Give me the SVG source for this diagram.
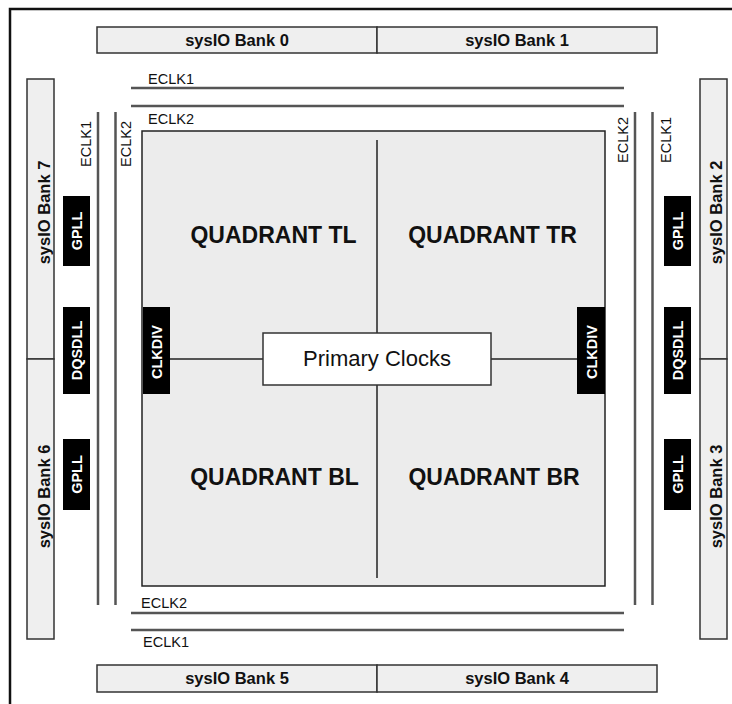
<svg xmlns="http://www.w3.org/2000/svg" width="732" height="704" viewBox="0 0 732 704">
<style>
.bank{fill:#efefef;stroke:#333;stroke-width:1.5}
.bt{font-family:"Liberation Sans",Arial,sans-serif;font-weight:bold;font-size:16.5px;fill:#111;text-anchor:middle}
.eclk{stroke:#555;stroke-width:2.5;fill:none}
.el{font-family:"Liberation Sans",Arial,sans-serif;font-size:14.5px;fill:#111}
.blk{fill:#000}
.wt{font-family:"Liberation Sans",Arial,sans-serif;font-weight:bold;font-size:14.5px;fill:#fff;text-anchor:middle}
.qt{font-family:"Liberation Sans",Arial,sans-serif;font-weight:bold;font-size:23px;fill:#111;text-anchor:middle}
.ln{stroke:#222;stroke-width:1.5;fill:none}
</style>
<rect width="732" height="704" fill="#fff"/>
<path d="M10,704 V9 H732" fill="none" stroke="#111" stroke-width="2.5"/>

<g id="quadrants">
<rect x="142" y="131" width="463" height="455" fill="#ececec" stroke="#222" stroke-width="1.5"/>
<text class="qt" x="273.5" y="243">QUADRANT TL</text>
<text class="qt" x="492.5" y="243">QUADRANT TR</text>
<text class="qt" x="274.5" y="485">QUADRANT BL</text>
<text class="qt" x="494" y="485">QUADRANT BR</text>
</g>

<g id="connectors">
<line class="ln" x1="377" y1="140" x2="377" y2="333"/>
<line class="ln" x1="377" y1="385" x2="377" y2="578"/>
<line class="ln" x1="170" y1="359" x2="263" y2="359"/>
<line class="ln" x1="491" y1="359" x2="577" y2="359"/>
</g>

<g id="eclk">
<line class="eclk" x1="131" y1="88" x2="624" y2="88"/>
<line class="eclk" x1="131" y1="106" x2="624" y2="106"/>
<line class="eclk" x1="131" y1="613" x2="624" y2="613"/>
<line class="eclk" x1="131" y1="630" x2="624" y2="630"/>
<line class="eclk" x1="98" y1="112" x2="98" y2="605"/>
<line class="eclk" x1="115.5" y1="112" x2="115.5" y2="605"/>
<line class="eclk" x1="635" y1="112" x2="635" y2="605"/>
<line class="eclk" x1="652.5" y1="112" x2="652.5" y2="605"/>
<text class="el" x="148" y="84">ECLK1</text>
<text class="el" x="148" y="123.5">ECLK2</text>
<text class="el" x="141" y="608">ECLK2</text>
<text class="el" x="143" y="647">ECLK1</text>
<text class="el" transform="translate(91,167) rotate(-90)">ECLK1</text>
<text class="el" transform="translate(131,167) rotate(-90)">ECLK2</text>
<text class="el" transform="translate(628,163) rotate(-90)">ECLK2</text>
<text class="el" transform="translate(671,163) rotate(-90)">ECLK1</text>
</g>

<g id="bank0"><rect class="bank" x="97" y="27" width="280" height="26"/><text class="bt" x="237" y="45.5">sysIO Bank 0</text></g>
<g id="bank1"><rect class="bank" x="377" y="27" width="280" height="26"/><text class="bt" x="517" y="45.5">sysIO Bank 1</text></g>
<g id="bank5"><rect class="bank" x="97" y="665" width="280" height="27"/><text class="bt" x="237" y="684">sysIO Bank 5</text></g>
<g id="bank4"><rect class="bank" x="377" y="665" width="280" height="27"/><text class="bt" x="517" y="684">sysIO Bank 4</text></g>
<g id="bank7"><rect class="bank" x="27" y="79" width="27" height="280"/><text class="bt" transform="translate(49.5,212.5) rotate(-90)">sysIO Bank 7</text></g>
<g id="bank6"><rect class="bank" x="27" y="359" width="27" height="280"/><text class="bt" transform="translate(49.5,496.5) rotate(-90)">sysIO Bank 6</text></g>
<g id="bank2"><rect class="bank" x="700" y="79" width="27" height="280"/><text class="bt" transform="translate(722,212.5) rotate(-90)">sysIO Bank 2</text></g>
<g id="bank3"><rect class="bank" x="700" y="359" width="27" height="280"/><text class="bt" transform="translate(722,496.5) rotate(-90)">sysIO Bank 3</text></g>

<g id="gpll-tl"><rect class="blk" x="63" y="196" width="27" height="70"/><text class="wt" transform="translate(81.7,231) rotate(-90)">GPLL</text></g>
<g id="dqsdll-l"><rect class="blk" x="63" y="307" width="27" height="87"/><text class="wt" transform="translate(81.7,350.5) rotate(-90)">DQSDLL</text></g>
<g id="gpll-bl"><rect class="blk" x="63" y="439" width="27" height="71"/><text class="wt" transform="translate(81.7,474.5) rotate(-90)">GPLL</text></g>
<g id="gpll-tr"><rect class="blk" x="664" y="196" width="27" height="70"/><text class="wt" transform="translate(682.7,231) rotate(-90)">GPLL</text></g>
<g id="dqsdll-r"><rect class="blk" x="664" y="307" width="27" height="87"/><text class="wt" transform="translate(682.7,350.5) rotate(-90)">DQSDLL</text></g>
<g id="gpll-br"><rect class="blk" x="664" y="439" width="27" height="71"/><text class="wt" transform="translate(682.7,474.5) rotate(-90)">GPLL</text></g>
<g id="clkdiv-l"><rect class="blk" x="143" y="307" width="27" height="87"/><text class="wt" transform="translate(161.7,352) rotate(-90)">CLKDIV</text></g>
<g id="clkdiv-r"><rect class="blk" x="577" y="307" width="28" height="87"/><text class="wt" transform="translate(596.5,352) rotate(-90)">CLKDIV</text></g>

<g id="primary-clocks">
<rect x="263" y="333" width="228" height="52" fill="#fff" stroke="#333" stroke-width="1.5"/>
<text x="377" y="365.5" font-family="'Liberation Sans',Arial,sans-serif" font-size="22" fill="#111" text-anchor="middle">Primary Clocks</text>
</g>
</svg>
